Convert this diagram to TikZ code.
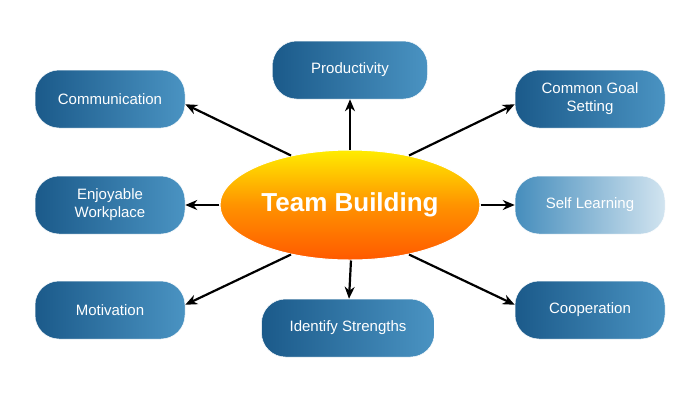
\documentclass[tikz,border=0pt]{standalone}
\usepackage{fontspec}
\setmainfont{Liberation Sans}
\usetikzlibrary{shapes.geometric,arrows.meta}
\definecolor{bdark}{HTML}{1B5A8A}
\definecolor{blight}{HTML}{4A93C2}
\begin{document}
\begin{tikzpicture}[x=1pt,y=-1pt,
  box/.style={rectangle,rounded corners=24pt,minimum width=150pt,minimum height=58pt,
    left color=bdark,right color=blight,text=white,font=\fontsize{15}{18}\selectfont,align=center,
    draw=white,line width=0.5pt},
  arr/.style={-{Stealth[length=12pt,width=10pt]},line width=2.2pt,black}]
\useasboundingbox (0,0) rectangle (700,400);
\fill[white] (0,0) rectangle (700,400);
\node[ellipse,minimum width=240pt,minimum height=110pt,top color=yellow!85!orange,bottom color=orange!70!red,middle color=orange!85!yellow,draw=white,line width=1pt,text=white,font=\bfseries\fontsize{26}{30}\selectfont] (tb) at (350,205) {Team Building};
\node[box,minimum width=155pt] (prod) at (350,70) {Productivity};
\node[box] (comm) at (110,99) {Communication};
\node[box] (goal) at (590,99) {Common Goal\\Setting};
\node[box] (enj) at (110,205) {Enjoyable\\Workplace};
\node[box,left color=blight!90!bdark,right color=blight!25!white] (self) at (590,205) {Self Learning};
\node[box] (mot) at (110,310) {Motivation};
\node[box,minimum width=173pt] (ident) at (348,328) {Identify Strengths};
\node[box] (coop) at (590,310) {Cooperation};
\draw[arr] (tb) -- (prod);
\draw[arr] (tb.140) -- (comm.-4);
\draw[arr] (tb.40) -- (goal.184);
\draw[arr] (tb) -- (enj);
\draw[arr] (tb) -- (self);
\draw[arr] (tb.220) -- (mot.4);
\draw[arr] (tb.-89) -- (ident.88);
\draw[arr] (tb.-40) -- (coop.176);
\end{tikzpicture}
\end{document}
